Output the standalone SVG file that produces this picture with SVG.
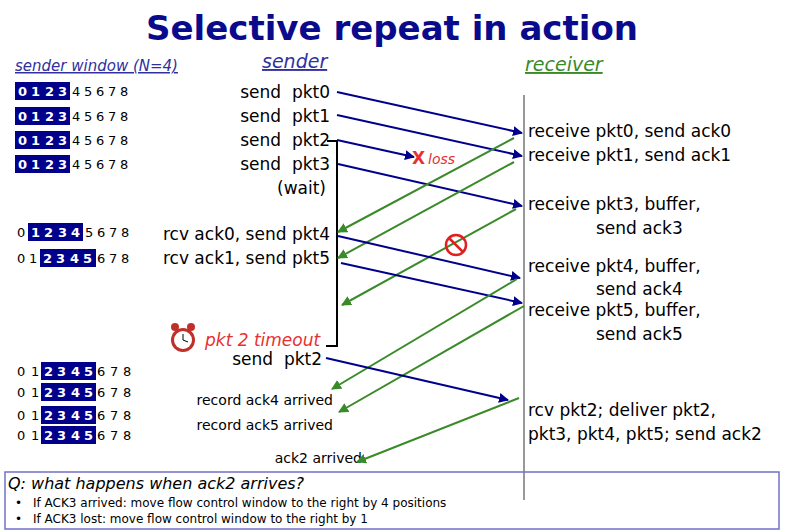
<svg xmlns="http://www.w3.org/2000/svg" width="786" height="532" viewBox="0 0 786 532">
<style>
text{font-family:"DejaVu Sans","Liberation Sans",sans-serif;}
.lbl{font-size:17px;fill:#000}
.win{font-size:13px;fill:#000}
.wh{fill:#fff;font-weight:bold}
.blue{stroke:#00008b;stroke-width:2;fill:none;marker-end:url(#ab)}
.green{stroke:#3a8a2a;stroke-width:2;fill:none;marker-end:url(#ag)}
.box{fill:#00008b}
</style>
<defs>
<marker id="ab" viewBox="0 0 10 10" refX="9" refY="5" markerWidth="5" markerHeight="5" orient="auto"><path d="M0,0L10,5L0,10z" fill="#00008b"/></marker>
<marker id="ag" viewBox="0 0 10 10" refX="9" refY="5" markerWidth="5" markerHeight="5" orient="auto"><path d="M0,0L10,5L0,10z" fill="#3a8a2a"/></marker>
</defs>
<rect width="786" height="532" fill="#fff"/>
<text x="392" y="40" text-anchor="middle" font-size="34" font-weight="bold" fill="#0a0a8c">Selective repeat in action</text>
<text x="15" y="71" font-size="15" font-style="italic" fill="#3030a0" text-decoration="underline">sender window (N=4)</text>
<text x="262" y="68" font-size="19" font-style="italic" fill="#3030a0" text-decoration="underline">sender</text>
<text x="525" y="71" font-size="19" font-style="italic" fill="#3a8a2a" text-decoration="underline">receiver</text>

<g id="windows" class="win">
<rect class="box" x="15" y="82" width="55" height="18"/><text y="96"><tspan class="wh" x="18 31 45 58">0123</tspan><tspan x="72 84 96 108 120">45678</tspan></text>
<rect class="box" x="15" y="107" width="55" height="18"/><text y="121"><tspan class="wh" x="18 31 45 58">0123</tspan><tspan x="72 84 96 108 120">45678</tspan></text>
<rect class="box" x="15" y="131" width="55" height="18"/><text y="145"><tspan class="wh" x="18 31 45 58">0123</tspan><tspan x="72 84 96 108 120">45678</tspan></text>
<rect class="box" x="15" y="155" width="55" height="18"/><text y="169"><tspan class="wh" x="18 31 45 58">0123</tspan><tspan x="72 84 96 108 120">45678</tspan></text>
<rect class="box" x="28" y="223" width="55" height="18"/><text y="237"><tspan x="17">0</tspan><tspan class="wh" x="31 44 58 71">1234</tspan><tspan x="85 97 109 121">5678</tspan></text>
<rect class="box" x="40" y="249" width="56" height="18"/><text y="263"><tspan x="17 29">01</tspan><tspan class="wh" x="43 56 70 83">2345</tspan><tspan x="97 109 121">678</tspan></text>
<rect class="box" x="41" y="362" width="55" height="18"/><text y="376"><tspan x="17 31">01</tspan><tspan class="wh" x="44 57 71 84">2345</tspan><tspan x="97 110 123">678</tspan></text>
<rect class="box" x="41" y="383" width="55" height="18"/><text y="397"><tspan x="17 31">01</tspan><tspan class="wh" x="44 57 71 84">2345</tspan><tspan x="97 110 123">678</tspan></text>
<rect class="box" x="41" y="406" width="55" height="18"/><text y="420"><tspan x="17 31">01</tspan><tspan class="wh" x="44 57 71 84">2345</tspan><tspan x="97 110 123">678</tspan></text>
<rect class="box" x="41" y="426" width="55" height="18"/><text y="440"><tspan x="17 31">01</tspan><tspan class="wh" x="44 57 71 84">2345</tspan><tspan x="97 110 123">678</tspan></text>
</g>

<g id="sender" class="lbl" text-anchor="end">
<text x="330" y="98">send &#160;pkt0</text>
<text x="330" y="122">send &#160;pkt1</text>
<text x="330" y="146">send &#160;pkt2</text>
<text x="330" y="170">send &#160;pkt3</text>
<text x="326" y="194">(wait)</text>
<text x="330" y="240">rcv ack0, send pkt4</text>
<text x="330" y="264">rcv ack1, send pkt5</text>
<text x="322" y="365">send &#160;pkt2</text>
<text x="333" y="405" font-size="14">record ack4 arrived</text>
<text x="333" y="430" font-size="14">record ack5 arrived</text>
<text x="362" y="463" font-size="14">ack2 arrived</text>
</g>

<g id="timeout">
<circle cx="183" cy="340" r="12" fill="#c0302a"/>
<circle cx="183" cy="340" r="9" fill="#fff"/>
<circle cx="175" cy="327" r="4" fill="#c0302a"/>
<circle cx="191" cy="327" r="4" fill="#c0302a"/>
<path d="M183,334V340L188,342" stroke="#000" stroke-width="1" fill="none"/>
<text x="205" y="346" font-size="17" font-style="italic" fill="#e83030">pkt 2 timeout</text>
<path d="M327,141H337V346H326" stroke="#000" stroke-width="2" fill="none"/>
</g>

<g id="receiver" class="lbl">
<line x1="524" y1="95" x2="524" y2="500" stroke="#777" stroke-width="1.5"/>
<text x="528" y="137">receive pkt0, send ack0</text>
<text x="528" y="161">receive pkt1, send ack1</text>
<text x="528" y="210">receive pkt3, buffer,</text>
<text x="596" y="234">send ack3</text>
<text x="528" y="272">receive pkt4, buffer,</text>
<text x="596" y="295">send ack4</text>
<text x="528" y="316">receive pkt5, buffer,</text>
<text x="596" y="340">send ack5</text>
<text x="528" y="416">rcv pkt2; deliver pkt2,</text>
<text x="528" y="440">pkt3, pkt4, pkt5; send ack2</text>
</g>

<g id="connectors">
<line class="blue" x1="337" y1="92" x2="522" y2="133"/>
<line class="blue" x1="337" y1="115" x2="522" y2="156"/>
<line class="blue" x1="337" y1="140" x2="414" y2="157"/>
<line class="blue" x1="338" y1="164" x2="522" y2="206"/>
<line class="green" x1="514" y1="138" x2="338" y2="232"/>
<line class="green" x1="514" y1="162" x2="338" y2="258"/>
<line class="green" x1="516" y1="209" x2="342" y2="305"/>
<line class="blue" x1="338" y1="236" x2="520" y2="278"/>
<line class="blue" x1="341" y1="263" x2="522" y2="303"/>
<line class="green" x1="517" y1="279" x2="332" y2="389"/>
<line class="green" x1="524" y1="306" x2="339" y2="412"/>
<line class="blue" x1="326" y1="358" x2="508" y2="400"/>
<line class="green" x1="519" y1="398" x2="357" y2="462"/>
</g>

<g id="loss">
<text x="412" y="164" font-size="17" font-weight="bold" fill="#e83030">X</text>
<text x="428" y="164" font-size="14" font-style="italic" fill="#e83030">loss</text>
<circle cx="456" cy="245" r="10" fill="none" stroke="#e02020" stroke-width="2.5"/>
<line x1="449" y1="238" x2="463" y2="252" stroke="#e02020" stroke-width="2.5"/>
</g>

<g id="question">
<rect x="5" y="472" width="774" height="57" fill="none" stroke="#7070c8" stroke-width="1.5"/>
<text x="8" y="489" font-size="16" font-style="italic">Q: what happens when ack2 arrives?</text>
<text x="15" y="507" font-size="12">•</text>
<text x="33" y="507" font-size="12">If ACK3 arrived: move flow control window to the right by 4 positions</text>
<text x="15" y="523" font-size="12">•</text>
<text x="33" y="523" font-size="12">If ACK3 lost: move flow control window to the right by 1</text>
</g>
</svg>
